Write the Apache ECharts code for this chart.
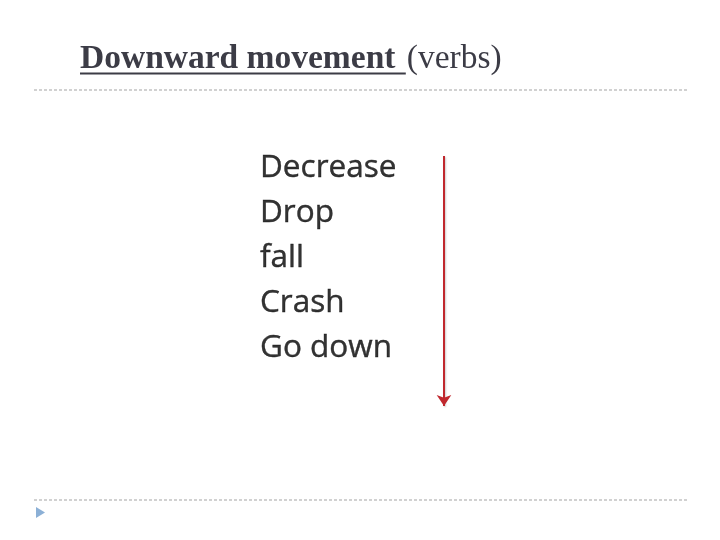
<!DOCTYPE html>
<html>
<head>
<meta charset="utf-8">
<script src="https://cdn.jsdelivr.net/npm/echarts@6/dist/echarts.min.js"></script>
<style>html,body{margin:0;padding:0;background:#fff;}#c{width:720px;height:540px;}</style>
</head>
<body>
<div id="c"></div>
<script>
var titleBold = 'Downward movement ';
var titleNormal = '(verbs)';
var words = ['Decrease', 'Drop', 'fall', 'Crash', 'Go down'];
var arrowRange = [0, 1];

var chart = echarts.init(document.getElementById('c'), null, {renderer: 'canvas'});
var titleFont = '"Liberation Serif", "Times New Roman", serif';
var titleSize = 33.5;

chart.setOption({
  animation: false,
  backgroundColor: '#ffffff',
  grid: [
    {left: 258, top: 145.5, width: 160, height: 225},
    {left: 444, top: 156, width: 1, height: 250}
  ],
  xAxis: [
    {gridIndex: 0, type: 'value', min: 0, max: 1, show: false},
    {gridIndex: 1, type: 'value', min: 0, max: 1, show: false}
  ],
  yAxis: [
    {gridIndex: 0, type: 'category', data: words, inverse: true, show: false},
    {gridIndex: 1, type: 'value', min: 0, max: 1, inverse: true, show: false}
  ],
  series: [
    {
      type: 'scatter',
      xAxisIndex: 0, yAxisIndex: 0,
      symbolSize: 0,
      data: words.map(function (w, i) { return [0, i]; }),
      label: {
        show: true,
        position: 'right',
        distance: 2,
        formatter: function (p) { return words[p.dataIndex]; },
        fontFamily: '"Open Sans", Lato, sans-serif',
        fontSize: 31.5,
        color: '#000000',
        textBorderColor: '#000000',
        textBorderWidth: 0.4
      }
    },
    {
      type: 'line',
      xAxisIndex: 1, yAxisIndex: 1,
      symbol: 'none',
      data: [],
      markLine: {
        silent: true,
        symbol: ['none', 'arrow'],
        symbolSize: [11, 11],
        label: {show: false},
        lineStyle: {color: '#c0282e', width: 2, type: 'solid', shadowColor: 'rgba(0,0,0,0.2)', shadowBlur: 2, shadowOffsetX: 1, shadowOffsetY: 1},
        data: [[{coord: [0, arrowRange[0]]}, {coord: [0, arrowRange[1]]}]]
      }
    }
  ],
  graphic: [
    {
      type: 'text', id: 'tb', left: 80, top: 42,
      style: {text: titleBold, font: 'bold ' + titleSize + 'px ' + titleFont, fill: '#3c3c46'}
    },
    {
      type: 'line',
      shape: {x1: 34, y1: 90, x2: 687, y2: 90},
      style: {stroke: '#c2c2c2', lineWidth: 1.3, lineDash: [3, 2]}
    },
    {
      type: 'line',
      shape: {x1: 34, y1: 500, x2: 687, y2: 500},
      style: {stroke: '#c2c2c2', lineWidth: 1.3, lineDash: [3, 2]}
    },
    {
      type: 'polygon',
      shape: {points: [[36, 507], [45, 512.5], [36, 518]]},
      style: {fill: '#8cb0d6'}
    }
  ]
});

var ctx = document.createElement('canvas').getContext('2d');
ctx.font = 'bold ' + titleSize + 'px ' + titleFont;
var bw = ctx.measureText(titleBold).width;
chart.setOption({
  graphic: [
    {
      type: 'text', id: 'tn', left: 80 + bw + 3, top: 42,
      style: {text: titleNormal, font: titleSize + 'px ' + titleFont, fill: '#3c3c46'}
    },
    {
      type: 'rect', id: 'ul',
      shape: {x: 80, y: 72.5, width: bw + 2, height: 2},
      style: {fill: '#3c3c46'}
    }
  ]
});
</script>
</body>
</html>
